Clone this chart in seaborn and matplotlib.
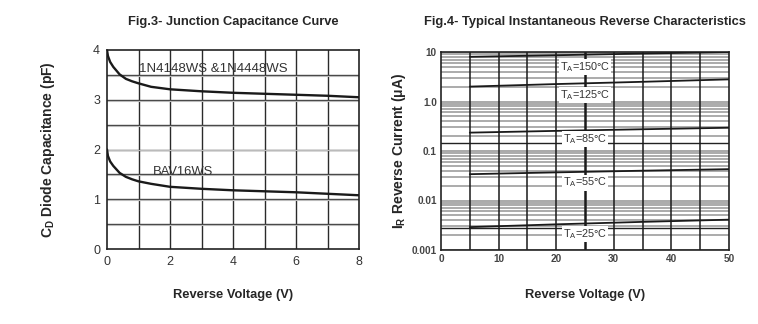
import numpy as np
import pandas as pd
import matplotlib
matplotlib.use("Agg")
import matplotlib.pyplot as plt
import seaborn as sns

# ---- Fig.3 data: junction capacitance vs reverse voltage ----
cap_voltage = [0, 0.03, 0.1, 0.2, 0.4, 0.6, 0.8, 1, 1.4, 2, 3, 4, 5, 6, 7, 8]
cap_1n4148 = [4.00, 3.88, 3.76, 3.66, 3.51, 3.42, 3.37, 3.33, 3.26, 3.21,
              3.17, 3.14, 3.12, 3.10, 3.08, 3.05]
cap_bav16 = [2.00, 1.87, 1.76, 1.67, 1.53, 1.45, 1.40, 1.36, 1.31, 1.25,
             1.21, 1.18, 1.16, 1.14, 1.11, 1.08]
cap_names = ["1N4148WS &1N4448WS", "BAV16WS"]
cap_ticks_x = [0, 2, 4, 6, 8]
cap_ticks_y = [0, 1, 2, 3, 4]

# ---- Fig.4 data: reverse current vs reverse voltage ----
ir_voltage = [5, 20, 35, 50]
ir_150 = [8.0, 8.6, 9.3, 10.0]
ir_125 = [2.0, 2.25, 2.5, 2.8]
ir_85 = [0.235, 0.255, 0.275, 0.295]
ir_55 = [0.034, 0.037, 0.040, 0.043]
ir_25 = [0.0029, 0.0033, 0.0037, 0.0041]
ir_temps = ["150", "125", "85", "55", "25"]
ir_label_y = [5.0, 1.37, 0.172, 0.023, 0.0021]
ir_ticks_y = [10, 1, 0.1, 0.01, 0.001]
ir_ticklabels_y = ["10", "1.0", "0.1", "0.01", "0.001"]
ir_ticks_x = [0, 10, 20, 30, 40, 50]

sns.set_theme(style="white")
plt.rcParams["font.family"] = ["Liberation Sans", "DejaVu Sans"]

fig = plt.figure(figsize=(7.58, 3.24), dpi=100)
ax1 = fig.add_axes([107 / 758, 1 - 249 / 324, 252 / 758, 199 / 324])
ax2 = fig.add_axes([441 / 758, 1 - 250 / 324, 288 / 758, 198 / 324])

# ---------------- Fig.3 ----------------
cap_df = pd.DataFrame({
    "V": cap_voltage * 2,
    "C": cap_1n4148 + cap_bav16,
    "part": [cap_names[0]] * len(cap_voltage) + [cap_names[1]] * len(cap_voltage),
})
ax1.set_xlim(0, 8)
ax1.set_ylim(0, 4)
for x in range(1, 8):
    ax1.axvline(x, color="#2a2a2a", lw=1.0, zorder=1)
for y in np.arange(0.5, 4, 0.5):
    ax1.axhline(y, color="#444444", lw=1.0, zorder=1)
    ax1.axhline(y - 0.02, color="#bbbbbb", lw=0.8, zorder=1)
sns.lineplot(data=cap_df, x="V", y="C", units="part", estimator=None,
             color="#1a1a1a", lw=1.7, ax=ax1, zorder=3, legend=False)
ax1.text(1.02, 3.62, cap_names[0], fontsize=9.5, color="#333333", va="center", zorder=4)
ax1.text(1.45, 1.55, cap_names[1], fontsize=9.4, color="#333333", va="center", zorder=4)
ax1.set_xticks(cap_ticks_x)
ax1.set_yticks(cap_ticks_y)
ax1.set_xticklabels([str(v) for v in cap_ticks_x], fontsize=9, color="#333333")
ax1.set_yticklabels([str(v) for v in cap_ticks_y], fontsize=9, color="#333333")
ax1.tick_params(length=0, pad=5)
ax1.set_xlabel("Reverse Voltage (V)", fontsize=9.3, fontweight="bold", labelpad=15)
ax1.set_ylabel(r"C$_{\mathregular{D}}$ Diode Capacitance (pF)", fontsize=10,
               fontweight="bold", labelpad=26)
ax1.set_title("Fig.3- Junction Capacitance Curve", fontsize=9.3, fontweight="bold", pad=18)
for s in ax1.spines.values():
    s.set_color("#222222")
    s.set_linewidth(1.2)

# ---------------- Fig.4 ----------------
ir_df = pd.DataFrame({
    "V": ir_voltage * 5,
    "I": ir_150 + ir_125 + ir_85 + ir_55 + ir_25,
    "T": sum([[t] * len(ir_voltage) for t in ir_temps], []),
})
ax2.set_yscale("log")
ax2.set_xlim(0, 50)
ax2.set_ylim(0.001, 10)
for dec in [0.001, 0.01, 0.1, 1]:
    for m in range(1, 11):
        ax2.axhline(dec * m, color="#ababab", lw=1.4, zorder=1)
ax2.axhline(0.145, color="#222222", lw=1.0, zorder=2)
ax2.axhline(0.0028, color="#222222", lw=1.0, zorder=2)
for x in range(5, 50, 5):
    ax2.axvline(x, color="#1a1a1a", lw=1.8 if x == 25 else 1.1, zorder=2)
sns.lineplot(data=ir_df, x="V", y="I", units="T", estimator=None,
             color="#1a1a1a", lw=1.3, ax=ax2, zorder=3, legend=False)
for t, yl in zip(ir_temps, ir_label_y):
    ax2.text(25, yl, r"T$_{\mathregular{A}}$=" + t + "°C", fontsize=7.8, color="#333333",
             ha="center", va="center", zorder=4,
             bbox=dict(facecolor="white", edgecolor="none", pad=0.8))
ax2.set_xticks(ir_ticks_x)
ax2.set_yticks(ir_ticks_y)
ax2.yaxis.set_minor_locator(matplotlib.ticker.NullLocator())
ax2.set_xticklabels([str(v) for v in ir_ticks_x], fontsize=7.2, fontweight="bold", color="#444444")
ax2.set_yticklabels(ir_ticklabels_y, fontsize=7.2, fontweight="bold", color="#444444")
ax2.tick_params(length=0, pad=3)
ax2.set_xlabel("Reverse Voltage (V)", fontsize=9.3, fontweight="bold", labelpad=18)
ax2.set_ylabel(r"I$_{\mathregular{R}}$ Reverse Current (μA)", fontsize=10,
               fontweight="bold", labelpad=3)
ax2.set_title("Fig.4- Typical Instantaneous Reverse Characteristics", fontsize=9.3,
              fontweight="bold", pad=19.5)
for s in ax2.spines.values():
    s.set_color("#222222")
    s.set_linewidth(1.2)

fig.savefig("out.png", dpi=100)
